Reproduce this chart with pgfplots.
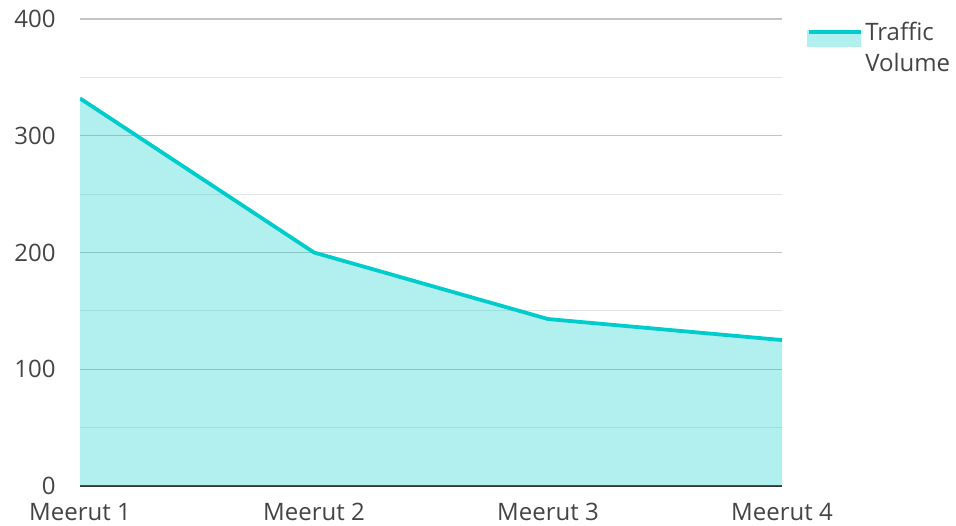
\documentclass[border=0pt]{standalone}
\usepackage{pgfplots}
\pgfplotsset{compat=1.18}
\usepackage{fontspec}
\setmainfont{Open Sans}
\definecolor{linec}{RGB}{0,204,204}
\definecolor{fillc}{RGB}{178,239,239}
\definecolor{labc}{RGB}{68,68,68}
\definecolor{majg}{RGB}{196,196,196}
\definecolor{ming}{RGB}{228,228,228}
\begin{document}
\begin{tikzpicture}
\useasboundingbox (-80bp,-40bp) rectangle (876bp,486bp);
\begin{axis}[
  at={(0,0)}, anchor=south west,
  scale only axis, width=702bp, height=467bp,
  xmin=0, xmax=3, ymin=0, ymax=400,
  xtick={0,1,2,3},
  xticklabels={Meerut 1,Meerut 2,Meerut 3,Meerut 4},
  ytick={0,100,200,300,400},
  minor ytick={50,150,250,350},
  ymajorgrids, yminorgrids,
  major grid style={majg, line width=1.2bp},
  minor grid style={ming, line width=1.2bp},
  axis x line*=bottom, axis y line*=left,
  x axis line style={draw=black!80, line width=2bp, -},
  y axis line style={draw=none},
  major tick length=0, minor tick length=0,
  tick style={draw=none},
  font=\fontsize{24bp}{29bp}\selectfont,
  tick label style={font=\fontsize{24bp}{29bp}\selectfont, text=labc},
  yticklabel style={anchor=east, xshift=-21bp},
  xticklabel style={anchor=north, inner ysep=0pt, yshift=-17bp},
  /pgf/number format/assume math mode=true,
  legend style={at={(1.036,0.999)}, anchor=north west, draw=none, fill=none,
    font=\fontsize{24bp}{31bp}\selectfont, text=labc,
    cells={align=left}, inner sep=0pt},
  legend image code/.code={
    \fill[fillc] (0bp,2bp) rectangle (50bp,15bp);
    \draw[linec, line width=3.8bp] (0bp,15bp) -- (50bp,15bp);
    \path (50bp,15bp) -- (52bp,15bp);
  },
]
\addplot[draw=none, fill=linec, fill opacity=0.3, forget plot] coordinates {(0,332) (1,200) (2,143) (3,125)} \closedcycle;
\addplot[linec, line width=3.8bp] coordinates {(0,332) (1,200) (2,143) (3,125)};
\addlegendentry{Traffic\\Volume}
\end{axis}
\end{tikzpicture}
\end{document}
